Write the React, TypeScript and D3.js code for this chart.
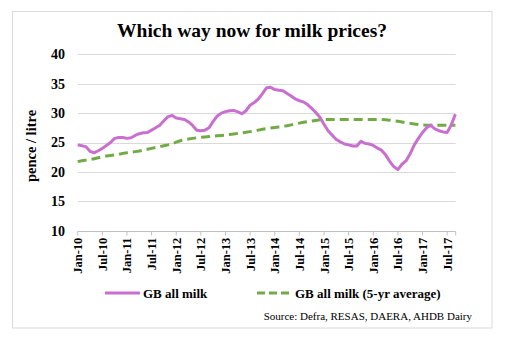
import React from "react";
import * as d3 from "d3";

const title = "Which way now for milk prices?";
const yAxisTitle = "pence / litre";
const sourceText = "Source: Defra, RESAS, DAERA, AHDB Dairy";
const seriesNames = ["GB all milk", "GB all milk (5-yr average)"];

// Monthly, Jan-10 .. Sep-17 (93 months)
const gbAllMilk = [
  24.6, 24.45, 24.3, 23.5, 23.25, 23.6, 24.0, 24.5, 25.0, 25.7, 25.85, 25.85,
  25.7, 25.8, 26.2, 26.5, 26.65, 26.7, 27.1, 27.5, 27.95, 28.7, 29.4, 29.6,
  29.15, 29.05, 28.9, 28.5, 27.9, 27.1, 27.0, 27.1, 27.5, 28.6, 29.5, 30.0,
  30.25, 30.4, 30.45, 30.2, 29.9, 30.4, 31.35, 31.8, 32.4, 33.3, 34.3, 34.4,
  34.0, 33.9, 33.8, 33.35, 32.9, 32.4, 32.1, 31.9, 31.45, 30.8, 30.1, 29.3,
  28.1, 27.0, 26.25, 25.5, 25.1, 24.75, 24.6, 24.4, 24.4, 25.2, 24.85, 24.75,
  24.5, 24.05, 23.7, 22.9, 21.8, 20.9, 20.4, 21.3, 21.9, 23.1, 24.6, 25.7,
  26.7, 27.5, 27.95, 27.3, 27.0, 26.8, 26.7, 28.0, 29.8,
];
const gbAllMilk5yr = [
  21.75, 21.9, 22.0, 22.1, 22.25, 22.4, 22.55, 22.7, 22.8, 22.9, 23.0, 23.15,
  23.25, 23.35, 23.45, 23.55, 23.7, 23.85, 24.0, 24.15, 24.3, 24.45, 24.6, 24.8,
  25.05, 25.3, 25.5, 25.6, 25.7, 25.8, 25.9, 25.95, 26.0, 26.1, 26.15, 26.2,
  26.25, 26.35, 26.45, 26.55, 26.65, 26.75, 26.85, 26.95, 27.1, 27.25, 27.35, 27.45,
  27.55, 27.65, 27.75, 27.85, 28.0, 28.15, 28.3, 28.45, 28.55, 28.65, 28.75, 28.85,
  28.9, 28.9, 28.9, 28.9, 28.9, 28.9, 28.9, 28.9, 28.9, 28.9, 28.9, 28.9,
  28.9, 28.9, 28.9, 28.85, 28.8, 28.7, 28.6, 28.5, 28.35, 28.25, 28.15, 28.05,
  28.0, 27.95, 27.95, 27.95, 27.95, 27.95, 27.95, 27.95, 27.95,
];
const xTickLabels = [
  "Jan-10", "Jul-10", "Jan-11", "Jul-11", "Jan-12", "Jul-12", "Jan-13", "Jul-13",
  "Jan-14", "Jul-14", "Jan-15", "Jul-15", "Jan-16", "Jul-16", "Jan-17", "Jul-17",
];
const yTicks = [10, 15, 20, 25, 30, 35, 40];

const PURPLE = "#c86fd0";
const GREEN = "#72aa46";
const SERIF = "'Liberation Serif', 'DejaVu Serif', serif";

export default function App() {
  const W = 515, H = 344;
  const left = 77.7, right = 455.7, top = 54.3, bottom = 230.7;
  const n = gbAllMilk.length;
  const x = d3.scaleLinear().domain([0, n - 1]).range([left, left + (n - 1) * 4.105]);
  const y = d3.scaleLinear().domain([10, 40]).range([bottom, top]);
  const line = d3
    .line<number>()
    .x((_, i) => x(i))
    .y((d) => y(d))
    .curve(d3.curveLinear);

  const tickIdx = xTickLabels.map((_, i) => i * 6);

  return (
    <svg
      width={W}
      height={H}
      style={{ position: "absolute", left: 0, top: 0, background: "#fff" }}
      fontFamily={SERIF}
    >
      <rect x={0} y={0} width={W} height={H} fill="#fff" />
      <rect x={12.5} y={11.5} width={479.5} height={316.5} fill="none" stroke="#d9d9d9" />
      <text x={252} y={37} textAnchor="middle" fontSize={19.5} fontWeight="bold" fill="#000">
        {title}
      </text>

      {yTicks.map((t) => (
        <g key={t}>
          <line
            x1={left}
            x2={right}
            y1={Math.round(y(t)) + 0.5}
            y2={Math.round(y(t)) + 0.5}
            stroke={t === 10 ? "#bfbfbf" : "#d9d9d9"}
            strokeWidth={1}
          />
          <text
            x={65}
            y={y(t)}
            dy="0.35em"
            textAnchor="end"
            fontSize={14}
            fontWeight="bold"
            fill="#000"
          >
            {t}
          </text>
        </g>
      ))}

      {/* x ticks */}
      {tickIdx.map((ti) => (
        <line
          key={"t" + ti}
          x1={x(ti)}
          x2={x(ti)}
          y1={Math.round(bottom) + 0.5}
          y2={Math.round(bottom) + 4.5}
          stroke="#bfbfbf"
        />
      ))}
      <line
        x1={right}
        x2={right}
        y1={Math.round(bottom) + 0.5}
        y2={Math.round(bottom) + 4.5}
        stroke="#bfbfbf"
      />
      {xTickLabels.map((lab, i) => (
        <text
          key={lab}
          transform={`translate(${x(tickIdx[i]) + 4.5},${bottom + 7}) rotate(-90)`}
          textAnchor="end"
          fontSize={12.5}
          fontWeight="bold"
          fill="#000"
        >
          {lab}
        </text>
      ))}

      <text
        transform={`translate(36,146) rotate(-90)`}
        textAnchor="middle"
        fontSize={14.5}
        fontWeight="bold"
        fill="#000"
      >
        {yAxisTitle}
      </text>

      <path
        d={line(gbAllMilk5yr) || ""}
        fill="none"
        stroke={GREEN}
        strokeWidth={3}
        strokeDasharray="9,5"
      />
      <path
        d={line(gbAllMilk) || ""}
        fill="none"
        stroke={PURPLE}
        strokeWidth={3}
        strokeLinejoin="round"
      />

      {/* legend */}
      <line x1={105} x2={140} y1={293} y2={293} stroke={PURPLE} strokeWidth={3} />
      <text x={143} y={297.5} fontSize={13} fontWeight="bold" fill="#000">
        {seriesNames[0]}
      </text>
      <line
        x1={257}
        x2={290}
        y1={293}
        y2={293}
        stroke={GREEN}
        strokeWidth={3}
        strokeDasharray="8,4"
      />
      <text x={295} y={297.5} fontSize={13} fontWeight="bold" fill="#000">
        {seriesNames[1]}
      </text>

      <text x={472} y={320} textAnchor="end" fontSize={11} fill="#000">
        {sourceText}
      </text>
    </svg>
  );
}
